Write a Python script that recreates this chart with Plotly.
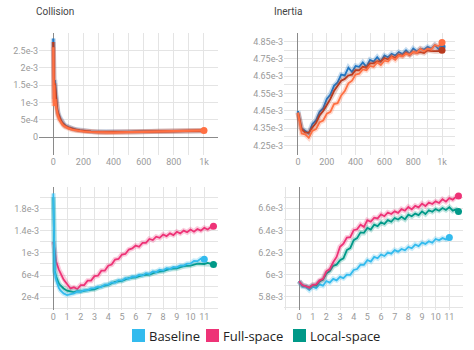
import plotly.graph_objects as go

# ---------------- data ----------------
# Top-left: Collision (x = steps)
col_x = [0, 3, 6, 10, 14, 18, 24, 30, 40, 50, 60, 70, 80, 100, 125, 150, 175, 200, 250, 300,
         350, 400, 450, 500, 550, 600, 650, 700, 750, 800, 850, 900, 950, 1000]
col_blue = [2.85e-3, 1.30e-3, 1.10e-3, 1.65e-3, 1.35e-3, 1.05e-3, 8.5e-4, 7.2e-4, 5.9e-4, 4.9e-4,
            4.2e-4, 3.7e-4, 3.3e-4, 2.85e-4, 2.45e-4, 2.15e-4, 1.95e-4, 1.8e-4, 1.6e-4, 1.5e-4,
            1.45e-4, 1.43e-4, 1.45e-4, 1.5e-4, 1.55e-4, 1.6e-4, 1.65e-4, 1.7e-4, 1.72e-4, 1.75e-4,
            1.78e-4, 1.8e-4, 1.82e-4, 1.85e-4]
col_red = [2.75e-3, 1.20e-3, 1.00e-3, 1.55e-3, 1.25e-3, 9.8e-4, 8.0e-4, 6.8e-4, 5.5e-4, 4.6e-4,
           3.9e-4, 3.5e-4, 3.1e-4, 2.7e-4, 2.3e-4, 2.05e-4, 1.85e-4, 1.7e-4, 1.52e-4, 1.42e-4,
           1.38e-4, 1.36e-4, 1.4e-4, 1.45e-4, 1.5e-4, 1.55e-4, 1.6e-4, 1.65e-4, 1.7e-4, 1.73e-4,
           1.76e-4, 1.79e-4, 1.82e-4, 1.85e-4]
col_orange = [2.60e-3, 9.0e-4, 1.50e-3, 9.5e-4, 1.1e-3, 8.8e-4, 7.4e-4, 6.2e-4, 5.0e-4, 4.2e-4,
              3.6e-4, 3.2e-4, 2.9e-4, 2.5e-4, 2.1e-4, 1.9e-4, 1.75e-4, 1.6e-4, 1.45e-4, 1.35e-4,
              1.32e-4, 1.3e-4, 1.35e-4, 1.4e-4, 1.45e-4, 1.5e-4, 1.58e-4, 1.65e-4, 1.7e-4, 1.75e-4,
              1.78e-4, 1.8e-4, 1.85e-4, 1.9e-4]

# Top-right: Inertia (values in units of 1e-3)
ine_x = [0, 25, 50, 75, 100, 125, 150, 175, 200, 225, 250, 275, 300, 325, 350, 375, 400, 425, 450,
         475, 500, 525, 550, 575, 600, 625, 650, 675, 700, 725, 750, 775, 800, 825, 850, 875, 900,
         925, 950, 975, 1000]
ine_blue_e3 = [4.45, 4.35, 4.335, 4.32, 4.375, 4.395, 4.445, 4.465, 4.52, 4.545,
               4.595, 4.615, 4.66, 4.655, 4.70, 4.675, 4.71, 4.705, 4.73, 4.705,
               4.745, 4.735, 4.76, 4.735, 4.77, 4.76, 4.78, 4.77, 4.79, 4.778,
               4.80, 4.78, 4.81, 4.795, 4.81, 4.805, 4.82, 4.81, 4.83, 4.808, 4.82]
ine_red_e3 = [4.44, 4.345, 4.325, 4.325, 4.355, 4.38, 4.425, 4.45, 4.485, 4.52,
              4.565, 4.595, 4.625, 4.635, 4.655, 4.66, 4.685, 4.685, 4.705, 4.70,
              4.725, 4.725, 4.737, 4.735, 4.755, 4.748, 4.765, 4.757, 4.775, 4.768,
              4.785, 4.773, 4.79, 4.785, 4.79, 4.785, 4.80, 4.795, 4.795, 4.795, 4.80]
ine_orange_e3 = [4.44, 4.32, 4.315, 4.295, 4.335, 4.345, 4.385, 4.395, 4.435, 4.445,
                 4.49, 4.495, 4.54, 4.565, 4.61, 4.625, 4.66, 4.665, 4.69, 4.685,
                 4.71, 4.705, 4.73, 4.715, 4.74, 4.735, 4.76, 4.745, 4.77, 4.765,
                 4.78, 4.775, 4.79, 4.785, 4.81, 4.795, 4.81, 4.805, 4.83, 4.825, 4.845]

# Bottom-left: collision (values in units of 1e-4)
bl_base_x = [0, 0.05, 0.1, 0.2, 0.3, 0.4, 0.5, 0.75, 1.0, 1.25, 1.5, 1.75, 2.0, 2.25, 2.5, 2.75,
             3.0, 3.25, 3.5, 3.75, 4.0, 4.25, 4.5, 4.75, 5.0, 5.25, 5.5, 5.75, 6.0, 6.25, 6.5, 6.75,
             7.0, 7.25, 7.5, 7.75, 8.0, 8.25, 8.5, 8.75, 9.0, 9.25, 9.5, 9.75, 10.0, 10.25, 10.5,
             10.75, 11.0]
bl_base_e4 = [20.7, 9.0, 6.5, 5.2, 4.3, 3.7, 3.3, 2.7,
              2.4, 2.55, 2.7, 3.05, 3.0, 3.3, 3.25, 3.6, 3.65, 3.9,
              3.85, 4.3, 4.3, 4.7, 4.6, 5.1, 5.0, 5.45, 5.35, 5.75,
              5.7, 6.05, 5.9, 6.35, 6.2, 6.65, 6.5, 6.95, 6.8, 7.25,
              7.1, 7.45, 7.4, 7.75, 7.7, 8.05, 8.1, 8.55, 8.5, 8.95, 8.85]
bl_local_x = [0, 0.05, 0.1, 0.2, 0.3, 0.4, 0.5, 0.75, 1.0, 1.25, 1.5, 1.75, 2.0, 2.5, 3.0, 3.5,
              4.0, 4.5, 5.0, 5.5, 6.0, 6.5, 7.0, 7.5, 8.0, 8.5, 9.0, 9.5, 10.0, 10.5, 11.0, 11.25,
              11.5, 11.67]
bl_local_e4 = [20.0, 8.0, 6.8, 5.8, 5.0, 4.5, 4.2, 3.6, 3.2, 3.1,
               2.95, 3.1, 3.05, 3.3, 3.45, 3.95, 4.25, 4.8, 4.95, 5.45,
               5.6, 6.0, 6.1, 6.55, 6.7, 7.1, 7.2, 7.6, 7.7, 8.05,
               8.0, 8.2, 7.95, 7.9]
bl_full_x = [0, 0.05, 0.1, 0.2, 0.3, 0.4, 0.5, 0.75, 1.0, 1.25, 1.5, 1.75, 2.0, 2.25, 2.5, 2.75,
             3.0, 3.25, 3.5, 3.75, 4.0, 4.25, 4.5, 4.75, 5.0, 5.25, 5.5, 5.75, 6.0, 6.25, 6.5, 6.75,
             7.0, 7.25, 7.5, 7.75, 8.0, 8.25, 8.5, 8.75, 9.0, 9.25, 9.5, 9.75, 10.0, 10.25, 10.5,
             10.75, 11.0, 11.25, 11.5, 11.67]
bl_full_e4 = [12.0, 11.5, 10.5, 8.5, 7.5, 7.0, 6.5, 5.2,
              4.4, 3.6, 3.8, 3.5, 4.2, 4.2, 5.0, 5.0, 5.8, 5.9,
              6.8, 6.8, 7.7, 7.9, 8.8, 8.9, 9.7, 9.8, 10.6, 10.8,
              11.3, 11.1, 11.8, 11.8, 12.5, 12.3, 12.9, 12.7, 13.3, 13.0,
              13.5, 13.2, 13.8, 13.5, 14.0, 13.7, 14.2, 13.8, 14.3, 14.0,
              14.5, 14.2, 14.7, 14.8]

# Bottom-right: inertia (values in units of 1e-3)
br_x = [0, 0.25, 0.5, 0.75, 1.0, 1.25, 1.5, 1.75, 2.0, 2.25, 2.5, 2.75, 3.0, 3.25, 3.5, 3.75,
        4.0, 4.25, 4.5, 4.75, 5.0, 5.25, 5.5, 5.75, 6.0, 6.25, 6.5, 6.75, 7.0, 7.25, 7.5, 7.75,
        8.0, 8.25, 8.5, 8.75, 9.0, 9.25, 9.5, 9.75, 10.0, 10.25, 10.5, 10.75, 11.0, 11.25, 11.5,
        11.67]
br_base_e3 = [5.94, 5.892, 5.89, 5.86, 5.89, 5.878, 5.912, 5.9, 5.942, 5.928,
              5.962, 5.948, 5.98, 5.968, 6.0, 5.998, 6.042, 6.05, 6.09, 6.088,
              6.132, 6.118, 6.16, 6.148, 6.182, 6.168, 6.2, 6.19, 6.222, 6.208,
              6.232, 6.22, 6.25, 6.238, 6.272, 6.258, 6.29, 6.278, 6.302, 6.288,
              6.322, 6.31, 6.33, 6.318, 6.335, None, None, None]
br_full_e3 = [5.94, 5.905, 5.895, 5.882, 5.908, 5.912, 5.948, 5.962, 6.03, 6.05,
              6.112, 6.16, 6.252, 6.28, 6.335, 6.338, 6.402, 6.41, 6.452, 6.432,
              6.492, 6.478, 6.515, 6.508, 6.545, 6.528, 6.562, 6.548, 6.572, 6.558,
              6.592, 6.578, 6.612, 6.59, 6.622, 6.608, 6.642, 6.62, 6.652, 6.638,
              6.662, 6.648, 6.682, 6.66, 6.692, 6.678, 6.705, 6.71]
br_local_e3 = [5.94, 5.902, 5.895, 5.882, 5.906, 5.902, 5.938, 5.952, 6.01, 6.032,
               6.08, 6.09, 6.13, 6.148, 6.222, 6.24, 6.312, 6.33, 6.382, 6.378,
               6.422, 6.408, 6.452, 6.438, 6.472, 6.458, 6.492, 6.478, 6.512, 6.498,
               6.522, 6.5, 6.542, 6.528, 6.552, 6.538, 6.572, 6.548, 6.582, 6.568,
               6.592, 6.578, 6.602, 6.585, 6.61, 6.578, 6.59, 6.57]

# tick labels
top_xvals = [0, 200, 400, 600, 800, 1000]
top_xtext = ["0", "200", "400", "600", "800", "1k"]
col_yvals = [0, 5e-4, 1e-3, 1.5e-3, 2e-3, 2.5e-3]
col_ytext = ["0", "5e-4", "1e-3", "1.5e-3", "2e-3", "2.5e-3"]
ine_yvals = [4.25e-3, 4.35e-3, 4.45e-3, 4.55e-3, 4.65e-3, 4.75e-3, 4.85e-3]
ine_ytext = ["4.25e-3", "4.35e-3", "4.45e-3", "4.55e-3", "4.65e-3", "4.75e-3", "4.85e-3"]
bot_xvals = list(range(12))
bl_yvals = [2e-4, 6e-4, 1e-3, 1.4e-3, 1.8e-3]
bl_ytext = ["2e-4", "6e-4", "1e-3", "1.4e-3", "1.8e-3"]
br_yvals = [5.8e-3, 6.0e-3, 6.2e-3, 6.4e-3, 6.6e-3]
br_ytext = ["5.8e-3", "6e-3", "6.2e-3", "6.4e-3", "6.6e-3"]

legend_names = ["Baseline", "Full-space", "Local-space"]


def scale(vals, f):
    return [None if v is None else v * f for v in vals]


C_BLUE, C_RED, C_ORANGE = "#1f77c4", "#b83a1e", "#ff7043"
C_CYAN, C_MAG, C_TEAL = "#33bbee", "#ee3377", "#009988"

W, H = 474, 350
def px(x): return x / W
def py(y): return 1 - y / H

fig = go.Figure()

def add_series(xs, ys, color, ax, width=1.8, end_marker=True):
    xa, ya = ("x", "y") if ax == 1 else (f"x{ax}", f"y{ax}")
    fig.add_trace(go.Scatter(x=xs, y=ys, mode="lines", xaxis=xa, yaxis=ya,
                             line=dict(color=color, width=5), opacity=0.25,
                             showlegend=False, hoverinfo="skip"))
    fig.add_trace(go.Scatter(x=xs, y=ys, mode="lines", xaxis=xa, yaxis=ya,
                             line=dict(color=color, width=width), showlegend=False))
    if end_marker:
        pts = [(a, b) for a, b in zip(xs, ys) if b is not None]
        lx, ly = pts[-1]
        fig.add_trace(go.Scatter(x=[lx], y=[ly], mode="markers", xaxis=xa, yaxis=ya,
                                 marker=dict(color=color, size=7), showlegend=False))

add_series(col_x, col_blue, C_BLUE, 1, 2.2, False)
add_series(col_x, col_red, C_RED, 1, 2.2, False)
add_series(col_x, col_orange, C_ORANGE, 1, 2.2, True)

add_series(ine_x, scale(ine_blue_e3, 1e-3), C_BLUE, 2, 1.8)
add_series(ine_x, scale(ine_red_e3, 1e-3), C_RED, 2, 1.8)
add_series(ine_x, scale(ine_orange_e3, 1e-3), C_ORANGE, 2, 1.8)

add_series(bl_full_x, scale(bl_full_e4, 1e-4), C_MAG, 3)
add_series(bl_local_x, scale(bl_local_e4, 1e-4), C_TEAL, 3)
add_series(bl_base_x, scale(bl_base_e4, 1e-4), C_CYAN, 3)

add_series(br_x, scale(br_base_e3, 1e-3), C_CYAN, 4)
add_series(br_x, scale(br_local_e3, 1e-3), C_TEAL, 4)
add_series(br_x, scale(br_full_e3, 1e-3), C_MAG, 4)

GRID = "#e4e4e4"
ZERO = "#8a8a8a"
TICKF = dict(family="Roboto", size=9, color="#9a9a9a")

def xax(domain, rng, vals, text, minor_dt, anchor):
    return dict(domain=domain, range=rng, tickmode="array", tickvals=vals, ticktext=text,
                showgrid=True, gridcolor=GRID, gridwidth=1,
                minor=dict(dtick=minor_dt, tick0=0, showgrid=True, gridcolor=GRID, gridwidth=1),
                zeroline=True, zerolinecolor=ZERO, zerolinewidth=1, showline=False,
                ticks="", tickfont=TICKF, anchor=anchor, fixedrange=True)

def yax(domain, rng, vals, text, minor_dt, tick0, anchor, zero=False):
    return dict(domain=domain, range=rng, tickmode="array", tickvals=vals, ticktext=text,
                showgrid=True, gridcolor=GRID, gridwidth=1,
                minor=dict(dtick=minor_dt, tick0=tick0, showgrid=True, gridcolor=GRID, gridwidth=1),
                zeroline=zero, zerolinecolor=ZERO, zerolinewidth=1, showline=False,
                ticks="", tickfont=TICKF, anchor=anchor, fixedrange=True)

dx1 = [px(39), px(218)]
dx2 = [px(284), px(455)]
dx3 = [px(40), px(218)]
dx4 = [px(284), px(463)]
dy_top = [py(155), py(33)]
dy_bot = [py(310), py(186.7)]

fig.update_layout(
    width=W, height=H, margin=dict(l=0, r=0, t=0, b=0),
    paper_bgcolor="white", plot_bgcolor="white", showlegend=False,
    xaxis=xax(dx1, [-95, 1093], top_xvals, top_xtext, 100, "y"),
    yaxis=yax(dy_top, [-5.2e-4, 3.01e-3], col_yvals, col_ytext, 5e-4, 0, "x", zero=True),
    xaxis2=xax(dx2, [-97, 1090], top_xvals, top_xtext, 100, "y2"),
    yaxis2=yax(dy_top, [4.196e-3, 4.90e-3], ine_yvals, ine_ytext, 5e-5, 4.25e-3, "x2"),
    xaxis3=xax(dx3, [-0.97, 12.0], bot_xvals, [str(v) for v in bot_xvals], 1, "y3"),
    yaxis3=yax(dy_bot, [-2.8e-5, 2.19e-3], bl_yvals, bl_ytext, 2e-4, 0, "x3"),
    xaxis4=xax(dx4, [-1.1, 12.0], bot_xvals, [str(v) for v in bot_xvals], 1, "y4"),
    yaxis4=yax(dy_bot, [5.68e-3, 6.795e-3], br_yvals, br_ytext, 1e-4, 5.8e-3, "x4"),
)

ann = [
    dict(text="Collision", x=px(34), y=py(11), xref="paper", yref="paper", xanchor="left",
         yanchor="middle", showarrow=False, font=dict(family="Roboto", size=10, color="#444")),
    dict(text="Inertia", x=px(272), y=py(12), xref="paper", yref="paper", xanchor="left",
         yanchor="middle", showarrow=False, font=dict(family="Roboto", size=10, color="#444")),
]
shapes = []
leg_colors = [C_CYAN, C_MAG, C_TEAL]
leg_sq = [132, 206, 293]
for name, col, x0 in zip(legend_names, leg_colors, leg_sq):
    shapes.append(dict(type="rect", xref="paper", yref="paper", x0=px(x0), x1=px(x0 + 13),
                       y0=py(342), y1=py(329), fillcolor=col, line=dict(color=col, width=0)))
    ann.append(dict(text=name, x=px(x0 + 15), y=py(336), xref="paper", yref="paper",
                    xanchor="left", yanchor="middle", showarrow=False,
                    font=dict(family="Open Sans", size=13, color="#222")))
fig.update_layout(annotations=ann, shapes=shapes)

fig.write_html("out.html")
